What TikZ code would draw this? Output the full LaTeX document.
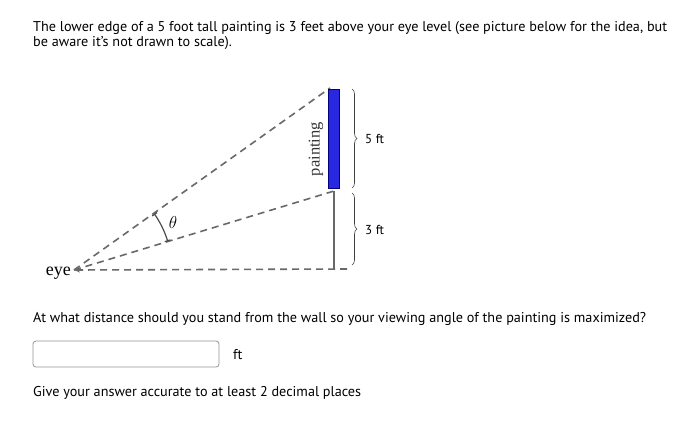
\documentclass[tikz,border=0pt]{standalone}
\usepackage{fontspec}
\setmainfont{PT Sans}
\newfontfamily\figfont{Liberation Serif}
\usetikzlibrary{decorations.pathreplacing,arrows.meta,calc}
\definecolor{dashgray}{RGB}{105,105,105}
\definecolor{paintblue}{RGB}{40,40,225}
\definecolor{boxgray}{RGB}{150,150,150}
\tikzset{
  sightline/.style={draw=dashgray, line width=1.6pt, dash pattern=on 7pt off 5pt},
  qtext/.style={anchor=base west, inner sep=0pt, font=\fontsize{14.2}{16}\selectfont},
  bracelbl/.style={anchor=west, inner sep=0pt, font=\fontsize{13}{15}\selectfont},
  bracestyle/.style={draw=black!75, line width=0.6pt, decorate, decoration={brace, amplitude=5pt}},
}
\begin{document}
\begin{tikzpicture}[x=1pt,y=-1pt]
\useasboundingbox[fill=white] (0,0) rectangle (700,420);
% question text
\node[qtext] (l1) at (33,31) {The lower edge of a 5 foot tall painting is 3 feet above your eye level (see picture below for the idea, but};
\node[qtext] (l2) at (33,46) {be aware it's not drawn to scale).};
% diagram
\coordinate (E) at (74,270);
\coordinate (E2) at (78,270);
\coordinate (W) at (334,269);
\coordinate (Wend) at (347,269);
\coordinate (Pt) at (330,88);
\coordinate (Pb) at (334,191);
\node[inner sep=0pt, anchor=base east, font=\figfont\fontsize{18}{20}\selectfont] (eye) at (71,275) {eye};
\draw[sightline] (Wend) -- (E);
\draw[-{Stealth[length=6pt,width=5pt]}, dashgray, line width=1pt] (E2) -- (E);
\draw[sightline] (E) -- (Pt);
\draw[sightline] (E) -- (Pb);
\draw[dashgray, line width=1.2pt] (Pb) -- (W);
\node[draw=blue!50!black, fill=paintblue, line width=0.6pt, minimum width=11pt, minimum height=99pt, inner sep=0pt] (P) at (333.5,138.5) {};
\node[rotate=90, inner sep=0pt, font=\figfont\fontsize{16.5}{18}\selectfont, text=black!80] (plbl) at (316,149) {painting};
% angle
\draw[black!70, line width=1.2pt, {Bar[width=6pt]}-{Bar[width=6pt]}] ($(E)+(-35:98)$) arc[start angle=-35, end angle=-17, radius=98];
\node[font=\figfont\itshape\fontsize{17}{19}\selectfont, inner sep=0pt] (th) at (173,222) {$\theta$};
% braces
\draw[bracestyle] (352,89) -- (352,188) coordinate[midway] (b1);
\draw[bracestyle] (352,193) -- (352,265) coordinate[midway] (b2);
\node[bracelbl] (f5) at (365,139) {5 ft};
\node[bracelbl] (f3) at (365,230) {3 ft};
% lower text
\node[qtext] (q) at (33,322) {At what distance should you stand from the wall so your viewing angle of the painting is maximized?};
\node[draw=boxgray, rounded corners=3pt, line width=0.8pt, minimum width=186pt, minimum height=26pt, inner sep=0pt] (box) at (126,354) {};
\node[qtext] (ft) at (233,359) {ft};
\node[qtext] (g) at (33,396) {Give your answer accurate to at least 2 decimal places};
\end{tikzpicture}
\end{document}
